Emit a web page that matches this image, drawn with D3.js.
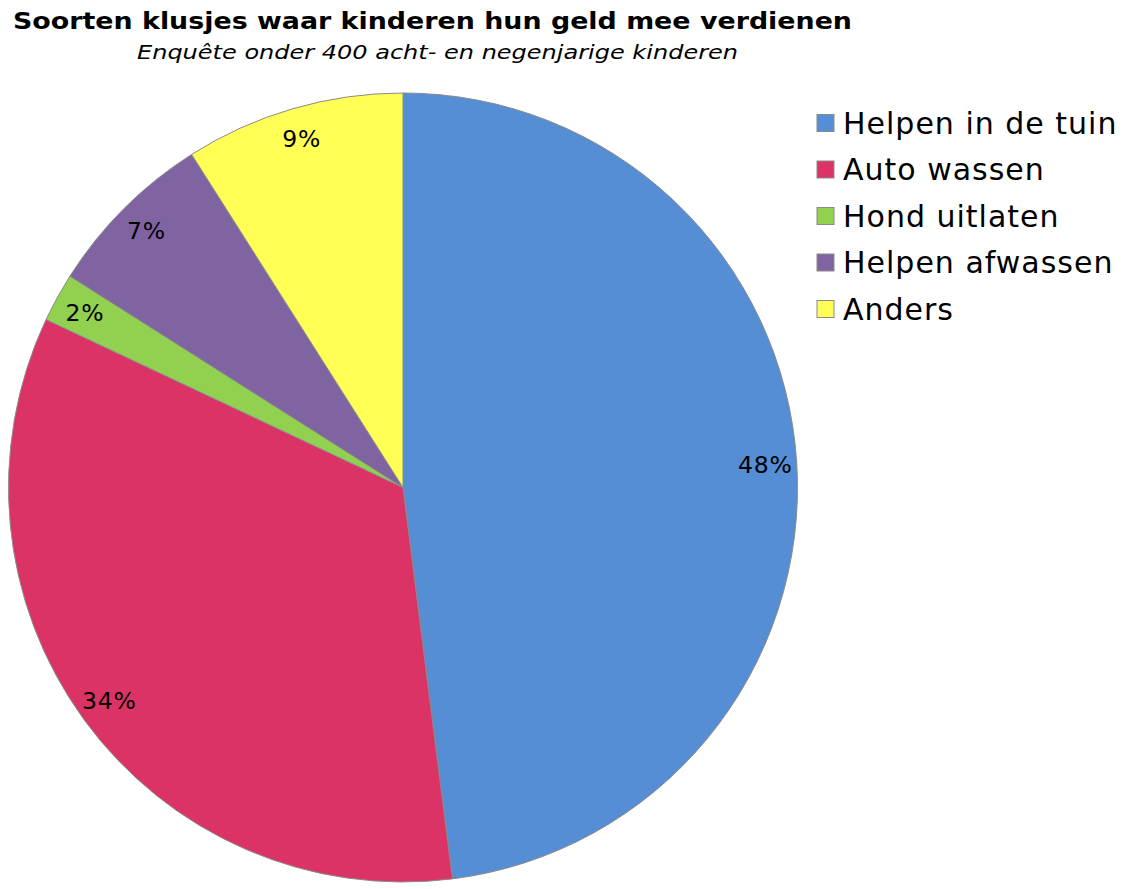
<!DOCTYPE html>
<html>
<head>
<meta charset="utf-8">
<script src="https://cdn.jsdelivr.net/npm/d3@7"></script>
<style>
  html, body { margin: 0; padding: 0; background: #fff; }
  svg { display: block; font-family: "DejaVu Sans", Verdana, sans-serif; }
</style>
</head>
<body>
<svg id="chart" width="1128" height="889"></svg>
<script>
// ── Data ──────────────────────────────────────────────────────────────────
const categories = ['Helpen in de tuin', 'Auto wassen', 'Hond uitlaten', 'Helpen afwassen', 'Anders'];
const values = [48, 34, 2, 7, 9];
const colors = ['#558ED5', '#DC3366', '#92D050', '#8064A2', '#FFFF55'];

const title = 'Soorten klusjes waar kinderen hun geld mee verdienen';
const subtitle = 'Enquête onder 400 acht- en negenjarige kinderen';

// ── Layout ────────────────────────────────────────────────────────────────
const svg = d3.select('#chart');
const cx = 403, cy = 487.5, R = 394.5;

svg.append('text')
  .attr('x', 432.5).attr('y', 29)
  .attr('text-anchor', 'middle')
  .attr('font-weight', 'bold').attr('font-size', 23.5)
  .attr('textLength', 839).attr('lengthAdjust', 'spacingAndGlyphs')
  .text(title);

svg.append('text')
  .attr('x', 437.5).attr('y', 59)
  .attr('text-anchor', 'middle')
  .attr('font-style', 'italic').attr('font-size', 20)
  .attr('textLength', 601).attr('lengthAdjust', 'spacingAndGlyphs')
  .text(subtitle);

// ── Pie ───────────────────────────────────────────────────────────────────
const data = categories.map((c, i) => ({ name: c, value: values[i], color: colors[i] }));
const pie = d3.pie().value(d => d.value).sort(null);
const arc = d3.arc().innerRadius(0).outerRadius(R);
const labelArc = d3.arc().innerRadius(R * 0.92).outerRadius(R * 0.92);

const g = svg.append('g').attr('transform', `translate(${cx},${cy})`);
const arcs = pie(data);

g.selectAll('path')
  .data(arcs).join('path')
  .attr('d', arc)
  .attr('fill', d => d.data.color)
  .attr('stroke', '#8a8a8a')
  .attr('stroke-width', 1);

g.selectAll('text')
  .data(arcs).join('text')
  .attr('transform', d => `translate(${labelArc.centroid(d)})`)
  .attr('text-anchor', 'middle')
  .attr('dy', '0.36em')
  .attr('font-size', 23.5)
  .attr('letter-spacing', 0.8)
  .attr('fill', '#000')
  .text(d => d.data.value + '%');

// ── Legend ────────────────────────────────────────────────────────────────
const legend = svg.append('g').attr('transform', 'translate(817,123)');
const row = legend.selectAll('g')
  .data(data).join('g')
  .attr('transform', (d, i) => `translate(0,${i * 46.5})`);

row.append('rect')
  .attr('x', 0).attr('y', -8.5)
  .attr('width', 17).attr('height', 17)
  .attr('fill', d => d.color)
  .attr('stroke', '#8a8a8a').attr('stroke-width', 1);

row.append('text')
  .attr('x', 26).attr('dy', '0.35em')
  .attr('font-size', 30)
  .attr('letter-spacing', 1)
  .text(d => d.name);
</script>
</body>
</html>
